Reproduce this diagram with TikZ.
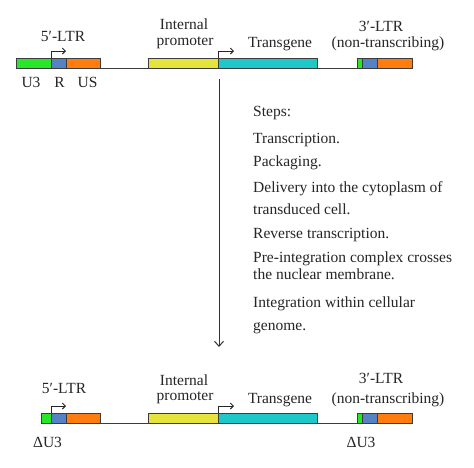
\documentclass[tikz,border=0pt]{standalone}
\usepackage{fontspec}
\setmainfont{Liberation Serif}
\usetikzlibrary{arrows.meta}
\definecolor{cgreen}{RGB}{40,230,40}
\definecolor{cblue}{RGB}{85,130,195}
\definecolor{corange}{RGB}{255,125,15}
\definecolor{cyellow}{RGB}{228,228,60}
\definecolor{ccyan}{RGB}{30,200,200}
\definecolor{cline}{RGB}{60,60,60}
\begin{document}
\begin{tikzpicture}[x=1pt,y=-1pt,
  seg/.style={draw=cline, line width=0.9pt, inner sep=0pt, outer sep=0pt, minimum height=10pt, anchor=north west},
  lbl/.style={font=\fontsize{15.5}{17}\selectfont, inner sep=0pt, anchor=base, text=black!85},
  stp/.style={lbl, anchor=base west},
  bb/.style={draw=cline, line width=0.9pt},
  prom/.style={draw=black!85, line width=0.9pt, -{Straight Barb[length=3pt,width=6pt]}},
  flow/.style={draw=black!80, line width=1pt, -{Straight Barb[length=5pt,width=9pt]}}]
\useasboundingbox (0,0) rectangle (474,467);
\fill[white] (0,0) rectangle (474,467);

% ---------- top construct ----------
\node[seg, fill=cgreen,  minimum width=35pt] (tu3) at (16,58) {};
\node[seg, fill=cblue,   minimum width=15pt] (tr)  at (51,58) {};
\node[seg, fill=corange, minimum width=34pt] (tus) at (66,58) {};
\node[seg, fill=cyellow, minimum width=70pt] (tyl) at (148,58) {};
\node[seg, fill=ccyan,   minimum width=99pt] (ttg) at (218,58) {};
\node[seg, fill=cgreen,  minimum width=5pt]  (tg3) at (357,58) {};
\node[seg, fill=cblue,   minimum width=15pt] (tb3) at (362,58) {};
\node[seg, fill=corange, minimum width=35pt] (to3) at (377,58) {};
\draw[bb] (tus.south east) -- (tyl.south west);
\draw[bb] (ttg.south east) -- (tg3.south west);
\coordinate (ta1) at (66,51);
\coordinate (ta2) at (234,51);
\draw[prom] (tr.north west) |- (ta1);
\draw[prom] (ttg.north west) |- (ta2);

\node[lbl] (tltr) at (63,41) {5′-LTR};
\node[lbl] (tint) at (184,29) {Internal};
\node[lbl] (tpro) at (185,45) {promoter};
\node[lbl] (ttrg) at (280,47) {Transgene};
\node[lbl] (t3l)  at (381,31) {3′-LTR};
\node[lbl] (t3n)  at (388,47) {(non-transcribing)};
\node[lbl] (lu3)  at (31,87) {U3};
\node[lbl] (lr)   at (59.5,87) {R};
\node[lbl] (lus)  at (87.5,87) {US};

% ---------- steps ----------
\coordinate (vtop) at (219,79);
\coordinate (vbot) at (219,347);
\draw[flow] (vtop) -- (vbot);
\node[stp] (s0) at (253,116) {Steps:};
\node[stp] (s1) at (253,143) {Transcription.};
\node[stp] (s2) at (253,166) {Packaging.};
\node[stp] (s3) at (253,192) {Delivery into the cytoplasm of};
\node[stp] (s4) at (253,214) {transduced cell.};
\node[stp] (s5) at (253,238) {Reverse transcription.};
\node[stp] (s6) at (253,262) {Pre-integration complex crosses};
\node[stp] (s7) at (253,279) {the nuclear membrane.};
\node[stp] (s8) at (253,307) {Integration within cellular};
\node[stp] (s9) at (253,330) {genome.};

% ---------- bottom construct ----------
\node[seg, fill=cgreen,  minimum width=10pt] (bu3) at (41,413) {};
\node[seg, fill=cblue,   minimum width=15pt] (br)  at (51,413) {};
\node[seg, fill=corange, minimum width=34pt] (bus) at (66,413) {};
\node[seg, fill=cyellow, minimum width=70pt] (byl) at (148,413) {};
\node[seg, fill=ccyan,   minimum width=99pt] (btg) at (218,413) {};
\node[seg, fill=cgreen,  minimum width=5pt]  (bg3) at (357,413) {};
\node[seg, fill=cblue,   minimum width=15pt] (bb3) at (362,413) {};
\node[seg, fill=corange, minimum width=35pt] (bo3) at (377,413) {};
\draw[bb] (bus.south east) -- (byl.south west);
\draw[bb] (btg.south east) -- (bg3.south west);
\coordinate (ba1) at (66,406);
\coordinate (ba2) at (234,406);
\draw[prom] (br.north west) |- (ba1);
\draw[prom] (btg.north west) |- (ba2);

\node[lbl] (bltr) at (64,393) {5′-LTR};
\node[lbl] (bint) at (184,385) {Internal};
\node[lbl] (bpro) at (185,400) {promoter};
\node[lbl] (btrg) at (280,403) {Transgene};
\node[lbl] (b3l)  at (381,383) {3′-LTR};
\node[lbl] (b3n)  at (388,403) {(non-transcribing)};
\node[lbl] (bdl)  at (47.5,447) {ΔU3};
\node[lbl] (bdr)  at (361,447) {ΔU3};
\end{tikzpicture}
\end{document}
